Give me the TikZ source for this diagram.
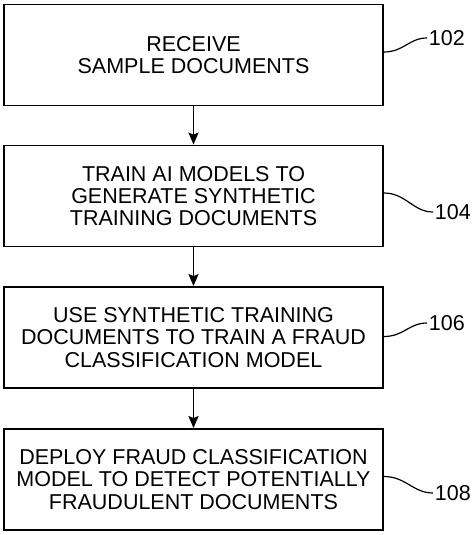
\documentclass[tikz,border=0pt]{standalone}
\usepackage{fontspec}
\setmainfont{Liberation Sans}
\usetikzlibrary{arrows.meta,positioning}

\begin{document}
\begin{tikzpicture}[x=1pt,y=-1pt,line width=1.8pt,
  font=\fontsize{21.5}{22.4}\selectfont,>={Stealth[length=12pt,width=10pt,inset=2pt]},
  stepbox/.style={draw,align=center,minimum width=379pt,minimum height=101pt,inner sep=0pt},
  refnum/.style={anchor=west,inner sep=1pt}]
\useasboundingbox (0,0) rectangle (474,535);
\node[stepbox] (recv) at (193.5,55) {RECEIVE\\SAMPLE DOCUMENTS};
\node[stepbox] (train) at (193.5,196) {TRAIN AI MODELS TO\\GENERATE SYNTHETIC\\TRAINING DOCUMENTS};
\node[stepbox] (use) at (193.5,337.5) {USE SYNTHETIC TRAINING\\DOCUMENTS TO TRAIN A FRAUD\\CLASSIFICATION MODEL};
\node[stepbox] (deploy) at (193.5,479.5) {DEPLOY FRAUD CLASSIFICATION\\MODEL TO DETECT POTENTIALLY\\FRAUDULENT DOCUMENTS};
\draw[->] (recv) -- (train);
\draw[->] (train) -- (use);
\draw[->] (use) -- (deploy);
% reference numerals
\node[refnum] (n102) at (427,38) {102};
\node[refnum] (n104) at (433,212) {104};
\node[refnum] (n106) at (427,323) {106};
\node[refnum] (n108) at (433,493) {108};
\draw[line width=1.2pt] (recv.east) ++(0,-3) .. controls +(20,0) and +(-18,0) .. (n102.west);
\draw[line width=1.2pt] (train.east) ++(0,-3) .. controls +(22,0) and +(-20,0) .. (n104.west);
\draw[line width=1.2pt] (use.east) ++(0,-1) .. controls +(20,0) and +(-18,0) .. (n106.west);
\draw[line width=1.2pt] (deploy.east) ++(0,-3) .. controls +(22,0) and +(-20,0) .. (n108.west);
\end{tikzpicture}
\end{document}
